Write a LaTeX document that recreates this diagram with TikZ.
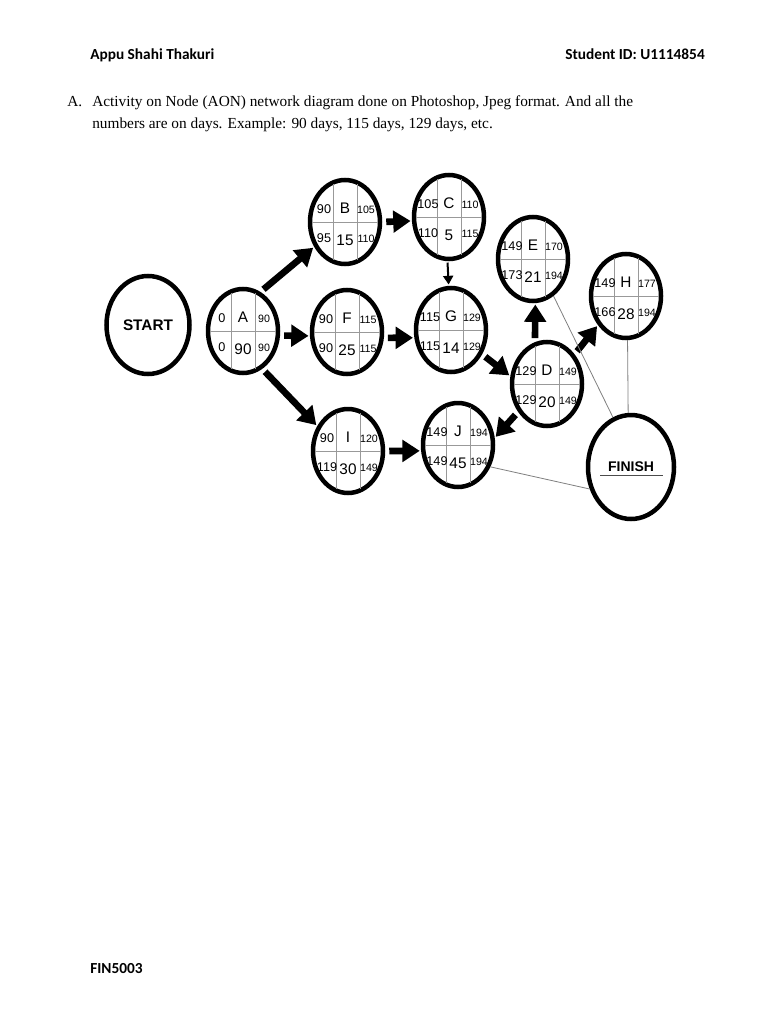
\documentclass[tikz,border=0pt]{standalone}
\usepackage{fontspec}
\setmainfont{Liberation Serif}
\setsansfont{Liberation Sans}
\newfontfamily\hdrfont{Carlito}
\usetikzlibrary{arrows.meta,shapes.geometric}
\newcommand{\px}{0.75pt}
% activity node: name, position, ES, label, EF, LS, duration, LF
\newcommand{\act}[8]{%
    \node[act] (#1) at #2 {};
    \draw[cell] ([shift={(-12,-38)}]#1.center) -- ([shift={(-12,38)}]#1.center);
    \draw[cell] ([shift={(12,-38)}]#1.center) -- ([shift={(12,38)}]#1.center);
    \draw[cell] ([shift={(-33,0)}]#1.center) -- ([shift={(33,0)}]#1.center);
    \node[lnum] at ([shift={(-21,-13)}]#1.center) {#3};
    \node[mid]  at ([shift={(0,-14)}]#1.center) {#4};
    \node[rnum] at ([shift={(21,-12)}]#1.center) {#5};
    \node[lnum] at ([shift={(-21,16)}]#1.center) {#6};
    \node[mid]  at ([shift={(0,18)}]#1.center) {#7};
    \node[rnum] at ([shift={(21,17)}]#1.center) {#8};
}

\begin{document}
\begin{tikzpicture}[x=\px, y=-\px,
    act/.style={draw, ellipse, line width=4.5*\px, minimum width=70*\px, minimum height=84*\px, inner sep=0pt},
    term/.style={draw, ellipse, line width=4.5*\px, inner sep=0pt},
    cell/.style={draw=gray!80, line width=0.6pt},
    lnum/.style={inner sep=0pt, font=\sffamily\fontsize{9.5}{10}\selectfont},
    rnum/.style={inner sep=0pt, font=\sffamily\fontsize{8}{9}\selectfont},
    mid/.style={inner sep=0pt, font=\sffamily\fontsize{11.5}{12}\selectfont},
    blk/.style={line width=5pt, shorten <=3pt, shorten >=1pt, -{Triangle[length=13pt, width=16pt]}},
    tarr/.style={line width=1.5pt, shorten <=1pt, shorten >=1pt, -{Triangle[length=6.5pt, width=7.5pt]}},
    link/.style={draw=gray, line width=0.6pt},
    hdr/.style={inner sep=0pt, font=\hdrfont\bfseries\fontsize{11.5}{13}\selectfont},
    body/.style={inner sep=0pt, font=\fontsize{11.5}{13}\selectfont}]

    \fill[white] (0,0) rectangle (768,1024);
    \useasboundingbox (0,0) rectangle (768,1024);

    % Page text
    \node[hdr, anchor=base west] (author) at (90,60) {Appu Shahi Thakuri};
    \node[hdr, anchor=base east] (sid) at (705,60) {Student ID: U1114854};
    \node[body, anchor=base west] (item) at (67,106) {A.};
    \node[body, anchor=base west] (line1) at (92,106) {Activity on Node (AON) network diagram done on Photoshop, Jpeg format. And all the};
    \node[body, anchor=base west] (line2) at (92,128) {numbers are on days. Example: 90 days, 115 days, 129 days, etc.};
    \node[hdr, anchor=base west] (footer) at (90,973) {FIN5003};

    % Start and finish
    \node[term, minimum width=83*\px, minimum height=98*\px, font=\sffamily\bfseries\fontsize{11.5}{12}\selectfont] (START) at (148,325) {START};
    \node[term, minimum width=86*\px, minimum height=104*\px, font=\sffamily\bfseries\fontsize{10.5}{11}\selectfont] (FINISH) at (631,467) {FINISH};
    \draw[draw=gray!60!black, line width=0.7pt] ([shift={(-31,8)}]FINISH.center) -- ([shift={(32,8)}]FINISH.center);

    % Activities
    \act{A}{(243,331)}{0}{A}{90}{0}{90}{90}
    \act{B}{(345,222)}{90}{B}{105}{95}{15}{110}
    \act{C}{(449,217)}{105}{C}{110}{110}{5}{115}
    \act{F}{(347,332)}{90}{F}{115}{90}{25}{115}
    \act{G}{(451,330)}{115}{G}{129}{115}{14}{129}
    \act{E}{(533,259)}{149}{E}{170}{173}{21}{194}
    \act{H}{(626,296)}{149}{H}{177}{166}{28}{194}
    \act{D}{(547,384)}{129}{D}{149}{129}{20}{149}
    \act{I}{(348,451)}{90}{I}{120}{119}{30}{149}
    \act{J}{(458,445)}{149}{J}{194}{149}{45}{194}

    % Arrows
    \draw[blk] (A.66) -- (B.219);
    \draw[blk] (A.-7) -- (F.186);
    \draw[blk] (A.-63) -- (I.141);
    \draw[blk] (B.0) -- (C.186);
    \draw[tarr] (C.-92) -- (G.93);
    \draw[blk] (F.-9) -- (G.192);
    \draw[blk] (G.-38) -- (D.168);
    \draw[blk] (D.106) -- (E.-87);
    \draw[blk] (D.47) -- (H.226);
    \draw[blk] (D.224) -- (J.11);
    \draw[blk] (I.0) -- (J.189);

    % Lines to finish
    \draw[link] (E.-61) -- (FINISH.110);
    \draw[link] (H.-88) -- (FINISH.93);
    \draw[link] (J.-34) -- (FINISH.208);
\end{tikzpicture}
\end{document}
